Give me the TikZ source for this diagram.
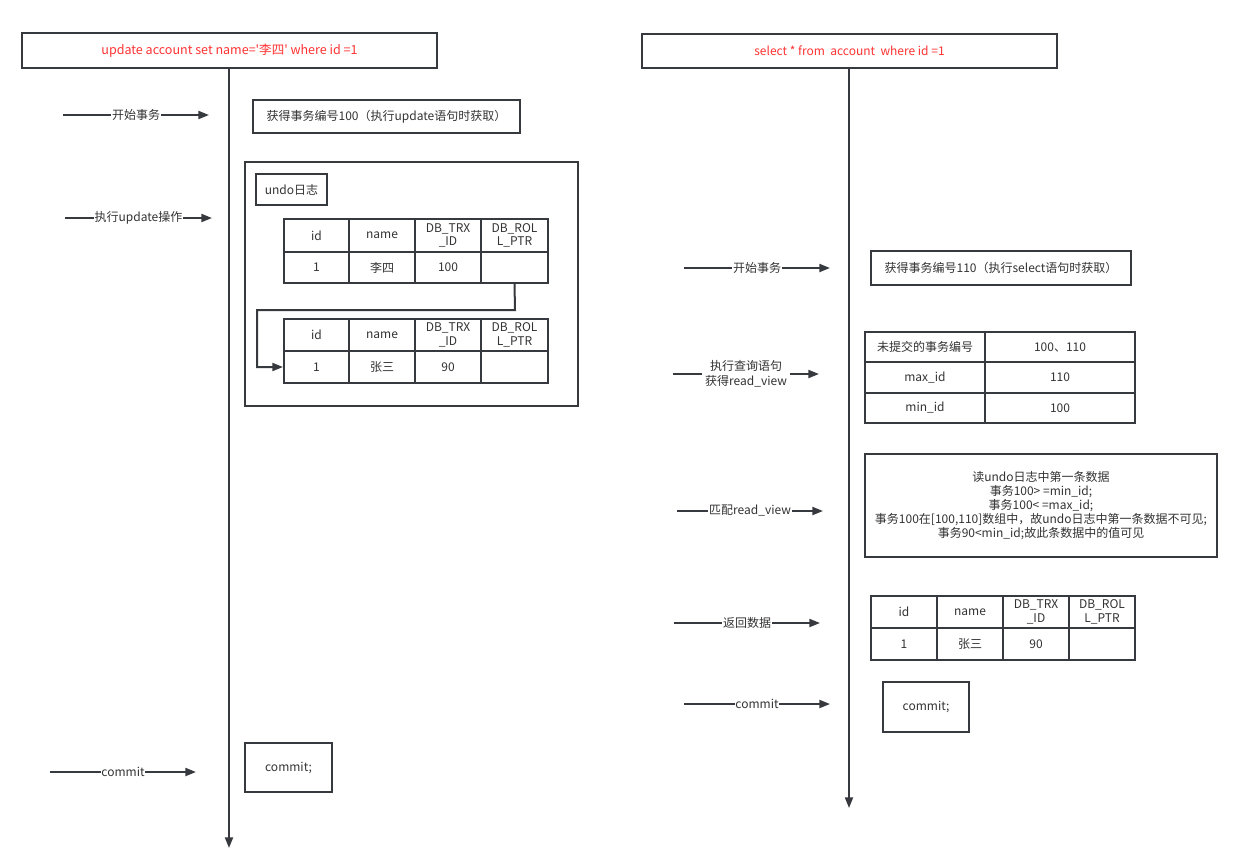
\documentclass[tikz,border=0pt]{standalone}
\usepackage{fontspec}
\setmainfont{Noto Sans CJK SC}[Ligatures=TeXOff]
\usetikzlibrary{arrows.meta}
\definecolor{ln}{HTML}{36393D}
\definecolor{tx}{HTML}{333333}
\definecolor{rd}{HTML}{FF3333}
\tikzset{
  box/.style={draw=ln,line width=1.5pt,fill=white,inner sep=0pt,text=tx,align=center},
  cellbox/.style={draw=ln,line width=1.5pt,inner sep=0pt,text=tx,align=center,font=\fontsize{9}{10}\selectfont},
  flow/.style={draw=ln,line width=1.5pt,-{Triangle[length=8pt,width=6pt]}},
  lbl/.style={fill=white,inner sep=0.5pt,text=tx,font=\fontsize{9}{11}\selectfont,align=center},
}
\newcommand\mycell[6]{%
  \pgfmathsetmacro\cw{(#4-#2)*0.75}%
  \pgfmathsetmacro\ch{(#5-#3)*0.75}%
  \node[cellbox,minimum width=\cw pt,minimum height=\ch pt] (#1) at ({(#2+#4)/2},{(#3+#5)/2}) {#6};}
\newcommand\mybox[6][]{%
  \pgfmathsetmacro\cw{(#4-#2)*0.75}%
  \pgfmathsetmacro\ch{(#5-#3)*0.75}%
  \node[box,minimum width=\cw pt,minimum height=\ch pt,font=\fontsize{9}{11}\selectfont,#1] (#6) at ({(#2+#4)/2},{(#3+#5)/2})}
\begin{document}
\begin{tikzpicture}[x=0.75pt,y=-0.75pt]
\useasboundingbox[fill=white] (0,0) rectangle (1244,857);

% ---------------- left column ----------------
\mybox[text=rd,font=\fontsize{9.4}{11}\selectfont]{22}{33}{437}{68}{hdrL}{update account set name='李四' where id =1};
\coordinate (endL) at (229,848);
\draw[flow] (hdrL.south -| endL) -- (endL);

\coordinate (a1s) at (63,115); \coordinate (a1e) at (209,115);
\draw[flow] (a1s) -- node[lbl]{开始事务} (a1e);
\mybox{253}{100}{520}{133}{txL}{获得事务编号100（执行update语句时获取）};

\coordinate (a2s) at (65,218); \coordinate (a2e) at (212,218);
\draw[flow] (a2s) -- node[lbl]{执行update操作} (a2e);

\mybox{245}{162}{578}{406}{undoOuter}{};
\mybox{256}{174}{327}{205}{undoTitle}{undo日志};

\mycell{u1a}{284}{219}{349}{252}{id}
\mycell{u1b}{349}{219}{415}{252}{name}
\mycell{u1c}{415}{219}{481}{252}{DB\_TRX\\\_ID}
\mycell{u1d}{481}{219}{548}{252}{DB\_ROL\\L\_PTR}
\mycell{u1e}{284}{252}{349}{283}{1}
\mycell{u1f}{349}{252}{415}{283}{李四}
\mycell{u1g}{415}{252}{481}{283}{100}
\mycell{u1h}{481}{252}{548}{283}{}

\mycell{u2a}{284}{319}{349}{351}{id}
\mycell{u2b}{349}{319}{415}{351}{name}
\mycell{u2c}{415}{319}{481}{351}{DB\_TRX\\\_ID}
\mycell{u2d}{481}{319}{548}{351}{DB\_ROL\\L\_PTR}
\mycell{u2e}{284}{351}{349}{383}{1}
\mycell{u2f}{349}{351}{415}{383}{张三}
\mycell{u2g}{415}{351}{481}{383}{90}
\mycell{u2h}{481}{351}{548}{383}{}

\coordinate (bendA) at (515,310);
\coordinate (bendB) at (257,310);
\draw[flow] (u1h.south) -- (bendA) -- (bendB) |- (u2e.west);

\coordinate (a3s) at (50,772); \coordinate (a3e) at (196,772);
\draw[flow] (a3s) -- node[lbl]{commit} (a3e);
\mybox{245}{743}{332}{792}{commitL}{commit;};

% ---------------- right column ----------------
\mybox[text=rd]{642}{34}{1057}{68}{hdrR}{select * from\ \ account\ \ where id =1};
\coordinate (endR) at (849,808);
\draw[flow] (hdrR.south -| endR) -- (endR);

\coordinate (b1s) at (684,268); \coordinate (b1e) at (830,268);
\draw[flow] (b1s) -- node[lbl]{开始事务} (b1e);
\mybox{871}{251}{1131}{285}{txR}{获得事务编号110（执行select语句时获取）};

\coordinate (b2s) at (673,374); \coordinate (b2e) at (819,374);
\draw[flow] (b2s) -- node[lbl,inner sep=2pt]{执行查询语句\\获得read\_view} (b2e);

\mycell{rv1}{865}{332}{985}{362}{未提交的事务编号}
\mycell{rv2}{985}{332}{1135}{362}{100、110}
\mycell{rv3}{865}{362}{985}{393}{max\_id}
\mycell{rv4}{985}{362}{1135}{393}{110}
\mycell{rv5}{865}{393}{985}{423}{min\_id}
\mycell{rv6}{985}{393}{1135}{423}{100}

\coordinate (b3s) at (677,511); \coordinate (b3e) at (823,511);
\draw[flow] (b3s) -- node[lbl]{匹配read\_view} (b3e);
\mybox[font=\fontsize{9}{10.5}\selectfont]{865}{454}{1217}{557}{match}{读undo日志中第一条数据\\事务100> =min\_id;\\事务100< =max\_id;\\事务100在[100,110]数组中，故undo日志中第一条数据不可见;\\事务90<min\_id;故此条数据中的值可见};

\coordinate (b4s) at (674,623); \coordinate (b4e) at (820,623);
\draw[flow] (b4s) -- node[lbl]{返回数据} (b4e);

\mycell{r1a}{871}{596}{937}{628}{id}
\mycell{r1b}{937}{596}{1003}{628}{name}
\mycell{r1c}{1003}{596}{1069}{628}{DB\_TRX\\\_ID}
\mycell{r1d}{1069}{596}{1135}{628}{DB\_ROL\\L\_PTR}
\mycell{r1e}{871}{628}{937}{660}{1}
\mycell{r1f}{937}{628}{1003}{660}{张三}
\mycell{r1g}{1003}{628}{1069}{660}{90}
\mycell{r1h}{1069}{628}{1135}{660}{}

\coordinate (b5s) at (684,704); \coordinate (b5e) at (830,704);
\draw[flow] (b5s) -- node[lbl]{commit} (b5e);
\mybox{883}{682}{969}{732}{commitR}{commit;};
\end{tikzpicture}
\end{document}
